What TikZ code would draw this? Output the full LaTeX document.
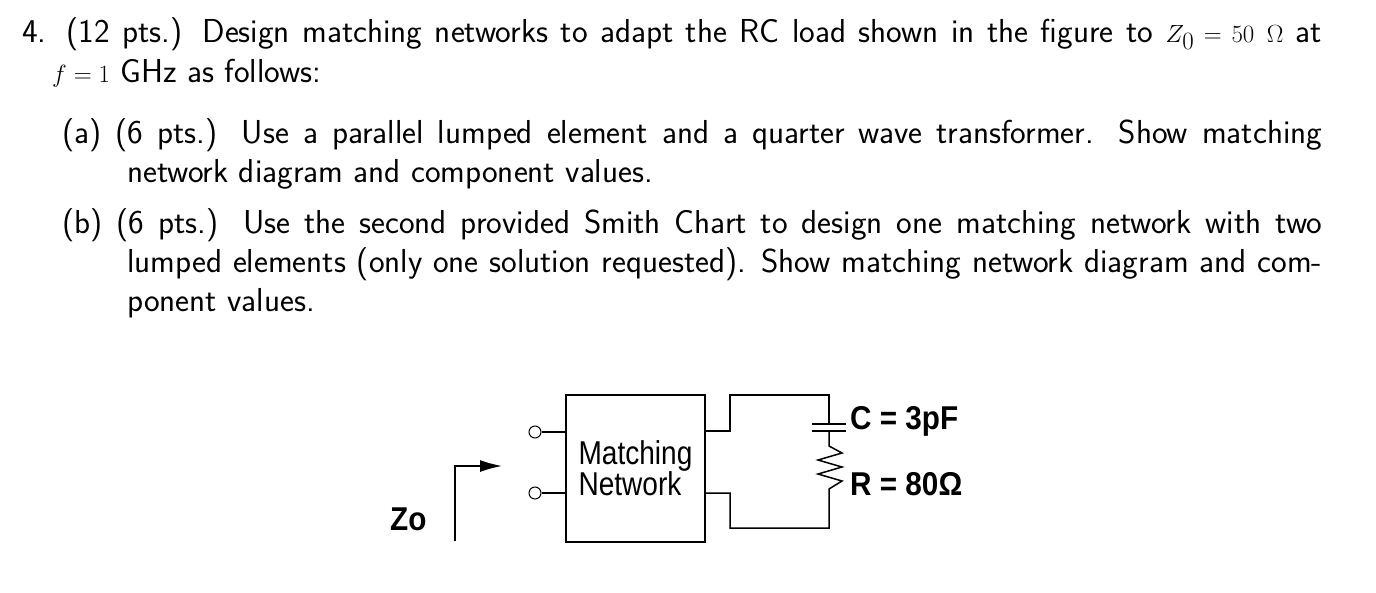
\documentclass[tikz,border=0pt]{standalone}
\usepackage{fontspec}
\newfontfamily\helv{Liberation Sans}
\usetikzlibrary{arrows.meta}
\begin{document}
\begin{tikzpicture}[x=1pt,y=-1pt,
  txt/.style={anchor=base west,inner sep=0pt,font=\fontsize{33.2}{36}\sffamily},
  lbl/.style={anchor=base west,inner sep=0pt,font=\fontsize{33}{34}\helv\bfseries},
  wire/.style={line width=1.5pt},
  term/.style={circle,draw,line width=1pt,minimum size=12pt,inner sep=0pt}]
\useasboundingbox (0,0) rectangle (1376,592);
\node[txt] (l1) at (22,42) {\makebox[1300pt][s]{4. (12 pts.) Design matching networks to adapt the RC load shown in the figure to $Z_0 = 50\ \Omega$ at}};
\node[txt] (l2) at (52,82) {$f=1$ GHz as follows:};
\node[txt] (a1) at (62,143) {\makebox[1260pt][s]{(a) (6 pts.) Use a parallel lumped element and a quarter wave transformer. Show matching}};
\node[txt] (a2) at (127,182) {network diagram and component values.};
\node[txt] (b1) at (62,233) {\makebox[1260pt][s]{(b) (6 pts.) Use the second provided Smith Chart to design one matching network with two}};
\node[txt] (b2) at (127,272) {\makebox[1195pt][s]{lumped elements (only one solution requested). Show matching network diagram and com-}};
\node[txt] (b3) at (127,311) {ponent values.};
% circuit
\node[draw,wire,minimum width=139pt,minimum height=147pt,inner sep=0pt,
  font=\fontsize{33}{33}\helv,align=left] (box) at (635.5,468.5) {\scalebox{0.85}[1]{Matching}\\[-2pt]\scalebox{0.85}[1]{Network}};
\node[term] (t1) at (535,432) {};
\node[term] (t2) at (535,493) {};
\draw[wire] (t1) -- (t1-|box.west);
\draw[wire] (t2) -- (t2-|box.west);
\coordinate (o1) at (705,431);
\coordinate (o2) at (705,493);
\coordinate (cap1) at (829,424);
\coordinate (cap2) at (829,431);
\coordinate (rtop) at (829,446);
\coordinate (rbot) at (829,489);
\draw[wire] (o1) -- (730,431) -- (730,395) -- (829,395) -- (cap1);
\draw[wire] (812,424) -- (846,424) (812,431) -- (846,431);
\draw[wire] (cap2) -- (rtop) -- (842,453) -- (818,460) -- (842,467) -- (818,474) -- (842,481) -- (rbot) -- (829,528) -- (730,528) -- (730,493) -- (o2);
\node[lbl] (cl) at (850,429) {\scalebox{0.9}[1]{C = 3pF}};
\node[lbl] (rl) at (850,495) {\scalebox{0.9}[1]{R = 80Ω}};
\node[lbl] (zo) at (390,530) {\scalebox{0.9}[1]{Zo}};
\coordinate (a0) at (455,541);
\coordinate (a1c) at (455,466);
\coordinate (a2c) at (502,466);
\draw[wire,-{Latex[length=22pt,width=12pt]}] (a0) -- (a1c) -- (a2c);
\end{tikzpicture}
\end{document}
